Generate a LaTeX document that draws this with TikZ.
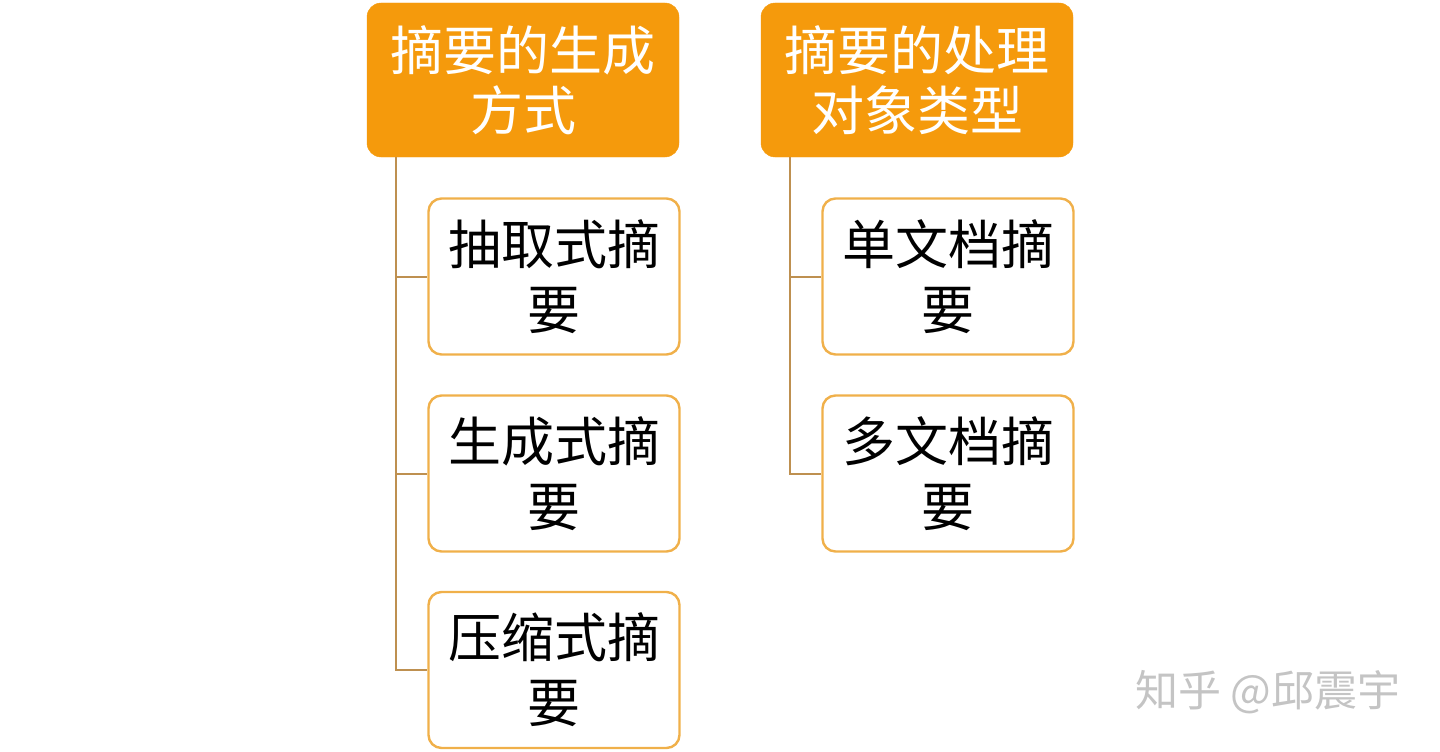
\documentclass[tikz,border=0pt]{standalone}
\usepackage{fontspec}
\setmainfont{Noto Sans CJK SC}
\definecolor{headfill}{HTML}{F59A0C}
\definecolor{boxline}{HTML}{F0B04A}
\definecolor{linkline}{HTML}{BE9050}
\definecolor{markgray}{HTML}{C4C4C4}
\begin{document}
\begin{tikzpicture}[x=1pt, y=-1pt,
  head/.style={draw=headfill, fill=headfill, rounded corners=14pt, minimum width=312pt, minimum height=154pt, text width=300pt, align=center, text=white, font=\fontsize{53}{60}\selectfont, inner sep=0pt},
  leaf/.style={draw=boxline, line width=2.4pt, fill=white, rounded corners=13pt, minimum width=251pt, minimum height=156pt, text width=240pt, align=center, font=\fontsize{53}{65}\selectfont, inner sep=0pt},
  link/.style={draw=linkline, line width=2pt}]
\useasboundingbox (0,0) rectangle (1440,752);

\node[head] (H1) at (523, 80) {摘要的生成\\方式};
\node[head] (H2) at (917, 80) {摘要的处理\\对象类型};

\node[leaf] (A1) at (554, 276.5) {抽取式摘\\要};
\node[leaf] (A2) at (554, 473.5) {生成式摘\\要};
\node[leaf] (A3) at (554, 670) {压缩式摘\\要};
\node[leaf] (B1) at (948, 276.5) {单文档摘\\要};
\node[leaf] (B2) at (948, 473.5) {多文档摘\\要};

\draw[link] ([xshift=29pt]H1.south west) |- (A1.west);
\draw[link] ([xshift=29pt]H1.south west) |- (A2.west);
\draw[link] ([xshift=29pt]H1.south west) |- (A3.west);
\draw[link] ([xshift=29pt]H2.south west) |- (B1.west);
\draw[link] ([xshift=29pt]H2.south west) |- (B2.west);

\node[text=markgray, font=\fontsize{43}{43}\selectfont] (W) at (1268, 692) {知乎 @邱震宇};
\end{tikzpicture}
\end{document}
